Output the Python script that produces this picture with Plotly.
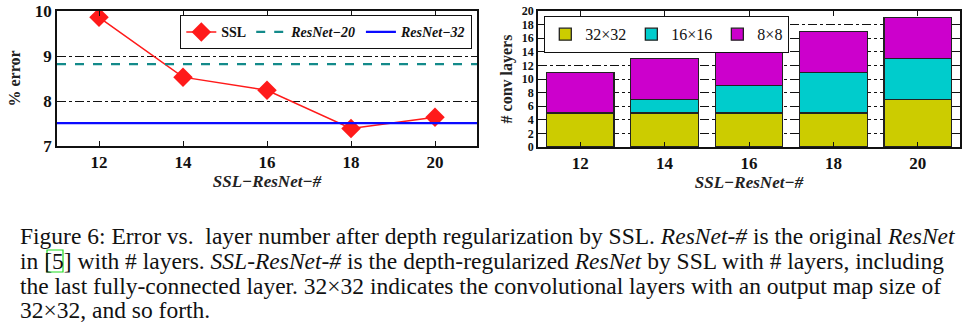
import plotly.graph_objects as go

# Depth-regularized ResNet results
depths = [12, 14, 16, 18, 20]
ssl_error = [9.86, 8.53, 8.24, 7.39, 7.64]
resnet20_error = 8.82
resnet32_error = 7.51

# Conv-layer counts per output map size
layers_32 = [5, 5, 5, 5, 7]
layers_16 = [0, 2, 4, 6, 6]
layers_8 = [6, 6, 6, 6, 6]

x_range = [11, 21]
SERIF = "Times New Roman, Liberation Serif, Tinos, serif"
W, H = 978, 324

fig = go.Figure()

# Left panel: error vs. depth
fig.add_trace(go.Scatter(
    x=depths, y=ssl_error, mode="lines+markers", name="<b>SSL</b>",
    line=dict(color="#ff1a1a", width=1.5),
    marker=dict(symbol="diamond", size=15, color="#ff1a1a"),
    xaxis="x", yaxis="y", legend="legend"))
fig.add_trace(go.Scatter(
    x=x_range, y=[resnet20_error] * 2, mode="lines",
    name="<b><i>ResNet\u221220</i></b>",
    line=dict(color="#138a8a", width=2.2, dash="dash"),
    xaxis="x", yaxis="y", legend="legend"))
fig.add_trace(go.Scatter(
    x=x_range, y=[resnet32_error] * 2, mode="lines",
    name="<b><i>ResNet\u221232</i></b>",
    line=dict(color="#0a0aff", width=2.2),
    xaxis="x", yaxis="y", legend="legend"))

# Right panel: stacked layer counts
for vals, label, color in [(layers_32, "32\u00d732", "#cccc00"),
                           (layers_16, "16\u00d716", "#00cccc"),
                           (layers_8, "8\u00d78", "#cc00cc")]:
    fig.add_trace(go.Bar(
        x=depths, y=vals, name=label, width=1.6,
        marker=dict(color=color, line=dict(color="#222222", width=1.3)),
        xaxis="x2", yaxis="y2", legend="legend2"))

tickfont = dict(family=SERIF, size=17, color="#111111", weight="bold")
axis_common = dict(showline=True, linecolor="#111111", linewidth=1.5,
                   mirror="allticks", ticks="inside", ticklen=5,
                   tickcolor="#111111", zeroline=False, automargin=False)
title_font = dict(family=SERIF, size=16, color="#222222", weight="bold")
xtitle_font = dict(family=SERIF, size=17, color="#222222", weight="bold",
                   style="italic")

fig.update_layout(
    width=W, height=H, margin=dict(l=0, r=0, t=0, b=0),
    paper_bgcolor="white", plot_bgcolor="white",
    barmode="stack", font=dict(family=SERIF),
    xaxis=dict(domain=[57 / W, 477 / W], range=x_range,
               tickvals=depths, showgrid=False, tickfont=tickfont,
               title=dict(text="SSL\u2212ResNet\u2212#", font=xtitle_font,
                          standoff=0),
               anchor="y", **axis_common),
    yaxis=dict(domain=[(H - 146) / H, (H - 11) / H], range=[7, 10],
               tickvals=[7, 8, 9, 10], showgrid=True, tickfont=tickfont,
               gridcolor="#111111", griddash="dashdot", gridwidth=1,
               title=dict(text="% error", font=title_font, standoff=10),
               anchor="x", **axis_common),
    xaxis2=dict(domain=[538 / W, 960 / W], range=x_range,
                tickvals=depths, showgrid=False, tickfont=tickfont,
                title=dict(text="SSL\u2212ResNet\u2212#", font=xtitle_font,
                           standoff=0),
                anchor="y2", **axis_common),
    yaxis2=dict(domain=[(H - 147) / H, (H - 11) / H], range=[0, 20],
                tickvals=list(range(0, 21, 2)), showgrid=True,
                tickfont=dict(tickfont, size=12),
                gridcolor="#111111", griddash="dashdot", gridwidth=1,
                title=dict(text="# conv layers", font=title_font, standoff=5),
                anchor="x2", **axis_common),
    legend=dict(orientation="h", x=472 / W, xanchor="right",
                y=(H - 15) / H, yanchor="top",
                bgcolor="white", bordercolor="#111111", borderwidth=1.3,
                font=dict(family=SERIF, size=14, color="#111111"),
                itemwidth=30, tracegroupgap=0),
    legend2=dict(orientation="h", x=544 / W, xanchor="left",
                 y=(H - 16) / H, yanchor="top",
                 bgcolor="white", bordercolor="#111111", borderwidth=1.3,
                 font=dict(family=SERIF, size=16, color="#111111"),
                 itemwidth=30, traceorder="normal"),
)

# Caption below the panels
caption = [
    "Figure 6: Error vs.  layer number after depth regularization by SSL. "
    "<i>ResNet-#</i> is the original <i>ResNet</i>",
    "in [5] with # layers. <i>SSL-ResNet-#</i> is the depth-regularized "
    "<i>ResNet</i> by SSL with # layers, including",
    "the last fully-connected layer. 32\u00d732 indicates the convolutional "
    "layers with an output map size of",
    "32\u00d732, and so forth.",
]
line_y = [236, 261, 286, 310]
for text, yc in zip(caption, line_y):
    fig.add_annotation(text=text, xref="paper", yref="paper",
                       x=18 / W, y=(H - yc) / H, xanchor="left",
                       yanchor="middle", showarrow=False,
                       font=dict(family=SERIF, size=23.5, color="#111111"))

# Citation link box around "5"
fig.add_shape(type="rect", xref="paper", yref="paper",
              x0=47 / W, x1=63 / W, y0=(H - 272) / H, y1=(H - 250) / H,
              line=dict(color="#22dd22", width=1.2))

fig.write_html("out.html")
